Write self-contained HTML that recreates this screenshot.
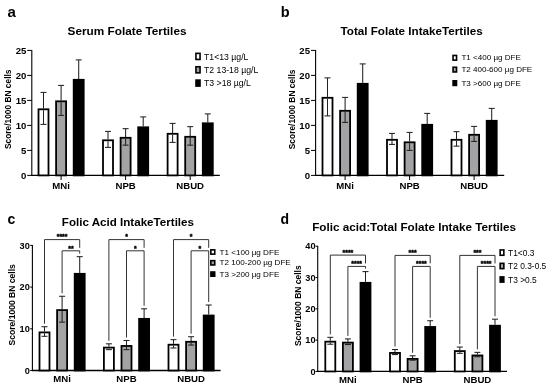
<!DOCTYPE html>
<html><head><meta charset="utf-8"><title>Folate tertiles</title>
<style>
html,body{margin:0;padding:0;background:#fff;}
body{width:550px;height:387px;overflow:hidden;}
svg{display:block;}
svg text{font-family:'Liberation Sans', Arial, sans-serif;fill:#000;}
</style></head><body>
<svg width="550" height="387" viewBox="0 0 550 387">
<rect x="0" y="0" width="550" height="387" fill="#fff"/>
<line x1="31.8" y1="49.9" x2="31.8" y2="176" stroke="#000" stroke-width="1.1"/>
<line x1="31.3" y1="175.4" x2="219.8" y2="175.4" stroke="#000" stroke-width="1.3"/>
<line x1="27.2" y1="175.4" x2="31.8" y2="175.4" stroke="#000" stroke-width="1"/>
<text x="26.3" y="178.7" font-size="9.6" font-weight="bold" text-anchor="end">0</text>
<line x1="27.2" y1="150.4" x2="31.8" y2="150.4" stroke="#000" stroke-width="1"/>
<text x="26.3" y="153.7" font-size="9.6" font-weight="bold" text-anchor="end">5</text>
<line x1="27.2" y1="125.4" x2="31.8" y2="125.4" stroke="#000" stroke-width="1"/>
<text x="26.3" y="128.7" font-size="9.6" font-weight="bold" text-anchor="end">10</text>
<line x1="27.2" y1="100.4" x2="31.8" y2="100.4" stroke="#000" stroke-width="1"/>
<text x="26.3" y="103.7" font-size="9.6" font-weight="bold" text-anchor="end">15</text>
<line x1="27.2" y1="75.4" x2="31.8" y2="75.4" stroke="#000" stroke-width="1"/>
<text x="26.3" y="78.7" font-size="9.6" font-weight="bold" text-anchor="end">20</text>
<line x1="27.2" y1="50.4" x2="31.8" y2="50.4" stroke="#000" stroke-width="1"/>
<text x="26.3" y="53.7" font-size="9.6" font-weight="bold" text-anchor="end">25</text>
<line x1="61.1" y1="175.4" x2="61.1" y2="180" stroke="#000" stroke-width="1"/>
<text x="61.1" y="189.1" font-size="9.6" font-weight="bold" text-anchor="middle">MNi</text>
<line x1="125.6" y1="175.4" x2="125.6" y2="180" stroke="#000" stroke-width="1"/>
<text x="125.6" y="189.1" font-size="9.6" font-weight="bold" text-anchor="middle">NPB</text>
<line x1="190.2" y1="175.4" x2="190.2" y2="180" stroke="#000" stroke-width="1"/>
<text x="190.2" y="189.1" font-size="9.6" font-weight="bold" text-anchor="middle">NBUD</text>
<rect x="38.5" y="109.3" width="10" height="66.1" fill="#fff" stroke="#000" stroke-width="1.8"/>
<line x1="43.5" y1="92.4" x2="43.5" y2="108.4" stroke="#222" stroke-width="1.05"/>
<line x1="40.5" y1="92.4" x2="46.5" y2="92.4" stroke="#222" stroke-width="1.05"/>
<line x1="43.5" y1="110.2" x2="43.5" y2="124.4" stroke="#222" stroke-width="1.05"/>
<line x1="40.5" y1="124.4" x2="46.5" y2="124.4" stroke="#222" stroke-width="1.05"/>
<rect x="56.1" y="101.3" width="10" height="74.1" fill="#a3a3a6" stroke="#000" stroke-width="1.8"/>
<line x1="61.1" y1="85.4" x2="61.1" y2="100.4" stroke="#222" stroke-width="1.05"/>
<line x1="58.1" y1="85.4" x2="64.1" y2="85.4" stroke="#222" stroke-width="1.05"/>
<line x1="61.1" y1="102.2" x2="61.1" y2="115.4" stroke="#222" stroke-width="1.05"/>
<line x1="58.1" y1="115.4" x2="64.1" y2="115.4" stroke="#222" stroke-width="1.05"/>
<rect x="73.7" y="79.8" width="10" height="95.6" fill="#000" stroke="#000" stroke-width="1.8"/>
<line x1="78.7" y1="59.9" x2="78.7" y2="78.9" stroke="#222" stroke-width="1.05"/>
<line x1="75.7" y1="59.9" x2="81.7" y2="59.9" stroke="#222" stroke-width="1.05"/>
<rect x="103" y="140.3" width="10" height="35.1" fill="#fff" stroke="#000" stroke-width="1.8"/>
<line x1="108" y1="131.4" x2="108" y2="139.4" stroke="#222" stroke-width="1.05"/>
<line x1="105" y1="131.4" x2="111" y2="131.4" stroke="#222" stroke-width="1.05"/>
<line x1="108" y1="141.2" x2="108" y2="147.4" stroke="#222" stroke-width="1.05"/>
<line x1="105" y1="147.4" x2="111" y2="147.4" stroke="#222" stroke-width="1.05"/>
<rect x="120.6" y="137.8" width="10" height="37.6" fill="#a3a3a6" stroke="#000" stroke-width="1.8"/>
<line x1="125.6" y1="128.65" x2="125.6" y2="136.9" stroke="#222" stroke-width="1.05"/>
<line x1="122.6" y1="128.65" x2="128.6" y2="128.65" stroke="#222" stroke-width="1.05"/>
<line x1="125.6" y1="138.7" x2="125.6" y2="145.15" stroke="#222" stroke-width="1.05"/>
<line x1="122.6" y1="145.15" x2="128.6" y2="145.15" stroke="#222" stroke-width="1.05"/>
<rect x="138.2" y="127.3" width="10" height="48.1" fill="#000" stroke="#000" stroke-width="1.8"/>
<line x1="143.2" y1="116.9" x2="143.2" y2="126.4" stroke="#222" stroke-width="1.05"/>
<line x1="140.2" y1="116.9" x2="146.2" y2="116.9" stroke="#222" stroke-width="1.05"/>
<rect x="167.6" y="133.8" width="10" height="41.6" fill="#fff" stroke="#000" stroke-width="1.8"/>
<line x1="172.6" y1="123.4" x2="172.6" y2="132.9" stroke="#222" stroke-width="1.05"/>
<line x1="169.6" y1="123.4" x2="175.6" y2="123.4" stroke="#222" stroke-width="1.05"/>
<line x1="172.6" y1="134.7" x2="172.6" y2="142.4" stroke="#222" stroke-width="1.05"/>
<line x1="169.6" y1="142.4" x2="175.6" y2="142.4" stroke="#222" stroke-width="1.05"/>
<rect x="185.2" y="136.8" width="10" height="38.6" fill="#a3a3a6" stroke="#000" stroke-width="1.8"/>
<line x1="190.2" y1="126.65" x2="190.2" y2="135.9" stroke="#222" stroke-width="1.05"/>
<line x1="187.2" y1="126.65" x2="193.2" y2="126.65" stroke="#222" stroke-width="1.05"/>
<line x1="190.2" y1="137.7" x2="190.2" y2="145.15" stroke="#222" stroke-width="1.05"/>
<line x1="187.2" y1="145.15" x2="193.2" y2="145.15" stroke="#222" stroke-width="1.05"/>
<rect x="202.8" y="123.3" width="10" height="52.1" fill="#000" stroke="#000" stroke-width="1.8"/>
<line x1="207.8" y1="113.9" x2="207.8" y2="122.4" stroke="#222" stroke-width="1.05"/>
<line x1="204.8" y1="113.9" x2="210.8" y2="113.9" stroke="#222" stroke-width="1.05"/>
<text x="0" y="0" font-size="8.4" font-weight="bold" text-anchor="middle" transform="translate(11.3,109.3) rotate(-90)">Score/1000 BN cells</text>
<text x="67.6" y="35.3" font-size="11.5" font-weight="bold" text-anchor="start" textLength="118.9" lengthAdjust="spacingAndGlyphs">Serum Folate Tertiles</text>
<text x="7.6" y="16.5" font-size="15" font-weight="bold" text-anchor="start">a</text>
<rect x="195.95" y="53.35" width="4.1" height="6.1" fill="#fff" stroke="#000" stroke-width="1.6"/>
<text x="204" y="60" font-size="8.7" text-anchor="start">T1&lt;13 µg/L</text>
<rect x="195.95" y="66.75" width="4.1" height="6.1" fill="#a3a3a6" stroke="#000" stroke-width="1.6"/>
<text x="204" y="72.6" font-size="8.7" text-anchor="start">T2 13-18 µg/L</text>
<rect x="195.2" y="79.3" width="5.6" height="7.6" fill="#000"/>
<text x="204" y="86" font-size="8.7" text-anchor="start">T3 &gt;18 µg/L</text>
<line x1="315.6" y1="49.9" x2="315.6" y2="176" stroke="#000" stroke-width="1.1"/>
<line x1="315.1" y1="175.4" x2="504.2" y2="175.4" stroke="#000" stroke-width="1.3"/>
<line x1="311" y1="175.4" x2="315.6" y2="175.4" stroke="#000" stroke-width="1"/>
<text x="310" y="178.7" font-size="9.6" font-weight="bold" text-anchor="end">0</text>
<line x1="311" y1="150.4" x2="315.6" y2="150.4" stroke="#000" stroke-width="1"/>
<text x="310" y="153.7" font-size="9.6" font-weight="bold" text-anchor="end">5</text>
<line x1="311" y1="125.4" x2="315.6" y2="125.4" stroke="#000" stroke-width="1"/>
<text x="310" y="128.7" font-size="9.6" font-weight="bold" text-anchor="end">10</text>
<line x1="311" y1="100.4" x2="315.6" y2="100.4" stroke="#000" stroke-width="1"/>
<text x="310" y="103.7" font-size="9.6" font-weight="bold" text-anchor="end">15</text>
<line x1="311" y1="75.4" x2="315.6" y2="75.4" stroke="#000" stroke-width="1"/>
<text x="310" y="78.7" font-size="9.6" font-weight="bold" text-anchor="end">20</text>
<line x1="311" y1="50.4" x2="315.6" y2="50.4" stroke="#000" stroke-width="1"/>
<text x="310" y="53.7" font-size="9.6" font-weight="bold" text-anchor="end">25</text>
<line x1="345.1" y1="175.4" x2="345.1" y2="180" stroke="#000" stroke-width="1"/>
<text x="345.1" y="189.1" font-size="9.6" font-weight="bold" text-anchor="middle">MNi</text>
<line x1="409.6" y1="175.4" x2="409.6" y2="180" stroke="#000" stroke-width="1"/>
<text x="409.6" y="189.1" font-size="9.6" font-weight="bold" text-anchor="middle">NPB</text>
<line x1="474.1" y1="175.4" x2="474.1" y2="180" stroke="#000" stroke-width="1"/>
<text x="474.1" y="189.1" font-size="9.6" font-weight="bold" text-anchor="middle">NBUD</text>
<rect x="322.5" y="97.8" width="10" height="77.6" fill="#fff" stroke="#000" stroke-width="1.8"/>
<line x1="327.5" y1="77.9" x2="327.5" y2="96.9" stroke="#222" stroke-width="1.05"/>
<line x1="324.5" y1="77.9" x2="330.5" y2="77.9" stroke="#222" stroke-width="1.05"/>
<line x1="327.5" y1="98.7" x2="327.5" y2="115.9" stroke="#222" stroke-width="1.05"/>
<line x1="324.5" y1="115.9" x2="330.5" y2="115.9" stroke="#222" stroke-width="1.05"/>
<rect x="340.1" y="110.8" width="10" height="64.6" fill="#a3a3a6" stroke="#000" stroke-width="1.8"/>
<line x1="345.1" y1="97.4" x2="345.1" y2="109.9" stroke="#222" stroke-width="1.05"/>
<line x1="342.1" y1="97.4" x2="348.1" y2="97.4" stroke="#222" stroke-width="1.05"/>
<line x1="345.1" y1="111.7" x2="345.1" y2="122.4" stroke="#222" stroke-width="1.05"/>
<line x1="342.1" y1="122.4" x2="348.1" y2="122.4" stroke="#222" stroke-width="1.05"/>
<rect x="357.7" y="83.8" width="10" height="91.6" fill="#000" stroke="#000" stroke-width="1.8"/>
<line x1="362.7" y1="63.9" x2="362.7" y2="82.9" stroke="#222" stroke-width="1.05"/>
<line x1="359.7" y1="63.9" x2="365.7" y2="63.9" stroke="#222" stroke-width="1.05"/>
<rect x="387" y="139.8" width="10" height="35.6" fill="#fff" stroke="#000" stroke-width="1.8"/>
<line x1="392" y1="133.4" x2="392" y2="138.9" stroke="#222" stroke-width="1.05"/>
<line x1="389" y1="133.4" x2="395" y2="133.4" stroke="#222" stroke-width="1.05"/>
<line x1="392" y1="140.7" x2="392" y2="144.4" stroke="#222" stroke-width="1.05"/>
<line x1="389" y1="144.4" x2="395" y2="144.4" stroke="#222" stroke-width="1.05"/>
<rect x="404.6" y="142.3" width="10" height="33.1" fill="#a3a3a6" stroke="#000" stroke-width="1.8"/>
<line x1="409.6" y1="132.4" x2="409.6" y2="141.4" stroke="#222" stroke-width="1.05"/>
<line x1="406.6" y1="132.4" x2="412.6" y2="132.4" stroke="#222" stroke-width="1.05"/>
<line x1="409.6" y1="143.2" x2="409.6" y2="150.4" stroke="#222" stroke-width="1.05"/>
<line x1="406.6" y1="150.4" x2="412.6" y2="150.4" stroke="#222" stroke-width="1.05"/>
<rect x="422.2" y="124.8" width="10" height="50.6" fill="#000" stroke="#000" stroke-width="1.8"/>
<line x1="427.2" y1="113.4" x2="427.2" y2="123.9" stroke="#222" stroke-width="1.05"/>
<line x1="424.2" y1="113.4" x2="430.2" y2="113.4" stroke="#222" stroke-width="1.05"/>
<rect x="451.5" y="139.8" width="10" height="35.6" fill="#fff" stroke="#000" stroke-width="1.8"/>
<line x1="456.5" y1="131.65" x2="456.5" y2="138.9" stroke="#222" stroke-width="1.05"/>
<line x1="453.5" y1="131.65" x2="459.5" y2="131.65" stroke="#222" stroke-width="1.05"/>
<line x1="456.5" y1="140.7" x2="456.5" y2="146.15" stroke="#222" stroke-width="1.05"/>
<line x1="453.5" y1="146.15" x2="459.5" y2="146.15" stroke="#222" stroke-width="1.05"/>
<rect x="469.1" y="134.8" width="10" height="40.6" fill="#a3a3a6" stroke="#000" stroke-width="1.8"/>
<line x1="474.1" y1="126.4" x2="474.1" y2="133.9" stroke="#222" stroke-width="1.05"/>
<line x1="471.1" y1="126.4" x2="477.1" y2="126.4" stroke="#222" stroke-width="1.05"/>
<line x1="474.1" y1="135.7" x2="474.1" y2="141.4" stroke="#222" stroke-width="1.05"/>
<line x1="471.1" y1="141.4" x2="477.1" y2="141.4" stroke="#222" stroke-width="1.05"/>
<rect x="486.7" y="120.8" width="10" height="54.6" fill="#000" stroke="#000" stroke-width="1.8"/>
<line x1="491.7" y1="108.4" x2="491.7" y2="119.9" stroke="#222" stroke-width="1.05"/>
<line x1="488.7" y1="108.4" x2="494.7" y2="108.4" stroke="#222" stroke-width="1.05"/>
<text x="0" y="0" font-size="8.4" font-weight="bold" text-anchor="middle" transform="translate(295,109.4) rotate(-90)">Score/1000 BN cells</text>
<text x="340.5" y="35.3" font-size="11.5" font-weight="bold" text-anchor="start" textLength="142.2" lengthAdjust="spacingAndGlyphs">Total Folate IntakeTertiles</text>
<text x="280.7" y="17" font-size="14.5" font-weight="bold" text-anchor="start">b</text>
<rect x="453.05" y="55.45" width="3.5" height="4.7" fill="#fff" stroke="#000" stroke-width="1.6"/>
<text x="461.4" y="60.4" font-size="8.05" text-anchor="start">T1 &lt;400 µg DFE</text>
<rect x="453.05" y="67.25" width="3.5" height="4.7" fill="#a3a3a6" stroke="#000" stroke-width="1.6"/>
<text x="461.4" y="72.2" font-size="8.05" text-anchor="start">T2 400-600 µg DFE</text>
<rect x="452.3" y="80" width="5" height="6.2" fill="#000"/>
<text x="461.4" y="85.6" font-size="8.05" text-anchor="start">T3 &gt;600 µg DFE</text>
<line x1="32.4" y1="244.9" x2="32.4" y2="371.1" stroke="#000" stroke-width="1.1"/>
<line x1="31.9" y1="370.5" x2="220.6" y2="370.5" stroke="#000" stroke-width="1.3"/>
<line x1="30.2" y1="370.5" x2="32.4" y2="370.5" stroke="#000" stroke-width="1"/>
<text x="29.8" y="373.7" font-size="9.2" font-weight="bold" text-anchor="end">0</text>
<line x1="30.2" y1="328.8" x2="32.4" y2="328.8" stroke="#000" stroke-width="1"/>
<text x="29.8" y="332" font-size="9.2" font-weight="bold" text-anchor="end">10</text>
<line x1="30.2" y1="287.1" x2="32.4" y2="287.1" stroke="#000" stroke-width="1"/>
<text x="29.8" y="290.3" font-size="9.2" font-weight="bold" text-anchor="end">20</text>
<line x1="30.2" y1="245.4" x2="32.4" y2="245.4" stroke="#000" stroke-width="1"/>
<text x="29.8" y="248.6" font-size="9.2" font-weight="bold" text-anchor="end">30</text>
<text x="62.1" y="381.5" font-size="9.6" font-weight="bold" text-anchor="middle">MNi</text>
<text x="126.5" y="381.5" font-size="9.6" font-weight="bold" text-anchor="middle">NPB</text>
<text x="191.1" y="381.5" font-size="9.6" font-weight="bold" text-anchor="middle">NBUD</text>
<rect x="39.5" y="332.41" width="10" height="38.09" fill="#fff" stroke="#000" stroke-width="1.8"/>
<line x1="44.5" y1="326.72" x2="44.5" y2="331.51" stroke="#222" stroke-width="1.05"/>
<line x1="41.5" y1="326.72" x2="47.5" y2="326.72" stroke="#222" stroke-width="1.05"/>
<line x1="44.5" y1="333.31" x2="44.5" y2="336.31" stroke="#222" stroke-width="1.05"/>
<line x1="41.5" y1="336.31" x2="47.5" y2="336.31" stroke="#222" stroke-width="1.05"/>
<rect x="57.1" y="310.1" width="10" height="60.4" fill="#a3a3a6" stroke="#000" stroke-width="1.8"/>
<line x1="62.1" y1="296.27" x2="62.1" y2="309.2" stroke="#222" stroke-width="1.05"/>
<line x1="59.1" y1="296.27" x2="65.1" y2="296.27" stroke="#222" stroke-width="1.05"/>
<line x1="62.1" y1="311" x2="62.1" y2="322.13" stroke="#222" stroke-width="1.05"/>
<line x1="59.1" y1="322.13" x2="65.1" y2="322.13" stroke="#222" stroke-width="1.05"/>
<rect x="74.7" y="273.82" width="10" height="96.68" fill="#000" stroke="#000" stroke-width="1.8"/>
<line x1="79.7" y1="256.66" x2="79.7" y2="272.92" stroke="#222" stroke-width="1.05"/>
<line x1="76.7" y1="256.66" x2="82.7" y2="256.66" stroke="#222" stroke-width="1.05"/>
<rect x="103.9" y="347.63" width="10" height="22.87" fill="#fff" stroke="#000" stroke-width="1.8"/>
<line x1="108.9" y1="343.81" x2="108.9" y2="346.73" stroke="#222" stroke-width="1.05"/>
<line x1="105.9" y1="343.81" x2="111.9" y2="343.81" stroke="#222" stroke-width="1.05"/>
<line x1="108.9" y1="348.53" x2="108.9" y2="349.65" stroke="#222" stroke-width="1.05"/>
<line x1="105.9" y1="349.65" x2="111.9" y2="349.65" stroke="#222" stroke-width="1.05"/>
<rect x="121.5" y="345.96" width="10" height="24.54" fill="#a3a3a6" stroke="#000" stroke-width="1.8"/>
<line x1="126.5" y1="340.48" x2="126.5" y2="345.06" stroke="#222" stroke-width="1.05"/>
<line x1="123.5" y1="340.48" x2="129.5" y2="340.48" stroke="#222" stroke-width="1.05"/>
<line x1="126.5" y1="346.86" x2="126.5" y2="349.65" stroke="#222" stroke-width="1.05"/>
<line x1="123.5" y1="349.65" x2="129.5" y2="349.65" stroke="#222" stroke-width="1.05"/>
<rect x="139.1" y="318.86" width="10" height="51.64" fill="#000" stroke="#000" stroke-width="1.8"/>
<line x1="144.1" y1="308.78" x2="144.1" y2="317.96" stroke="#222" stroke-width="1.05"/>
<line x1="141.1" y1="308.78" x2="147.1" y2="308.78" stroke="#222" stroke-width="1.05"/>
<rect x="168.5" y="344.71" width="10" height="25.79" fill="#fff" stroke="#000" stroke-width="1.8"/>
<line x1="173.5" y1="339.64" x2="173.5" y2="343.81" stroke="#222" stroke-width="1.05"/>
<line x1="170.5" y1="339.64" x2="176.5" y2="339.64" stroke="#222" stroke-width="1.05"/>
<line x1="173.5" y1="345.61" x2="173.5" y2="347.98" stroke="#222" stroke-width="1.05"/>
<line x1="170.5" y1="347.98" x2="176.5" y2="347.98" stroke="#222" stroke-width="1.05"/>
<rect x="186.1" y="341.79" width="10" height="28.71" fill="#a3a3a6" stroke="#000" stroke-width="1.8"/>
<line x1="191.1" y1="336.72" x2="191.1" y2="340.89" stroke="#222" stroke-width="1.05"/>
<line x1="188.1" y1="336.72" x2="194.1" y2="336.72" stroke="#222" stroke-width="1.05"/>
<line x1="191.1" y1="342.69" x2="191.1" y2="345.06" stroke="#222" stroke-width="1.05"/>
<line x1="188.1" y1="345.06" x2="194.1" y2="345.06" stroke="#222" stroke-width="1.05"/>
<rect x="203.7" y="315.52" width="10" height="54.98" fill="#000" stroke="#000" stroke-width="1.8"/>
<line x1="208.7" y1="305.03" x2="208.7" y2="314.62" stroke="#222" stroke-width="1.05"/>
<line x1="205.7" y1="305.03" x2="211.7" y2="305.03" stroke="#222" stroke-width="1.05"/>
<polyline points="44.5,323.72 44.5,239.6 79.7,239.6 79.7,247.8" fill="none" stroke="#333" stroke-width="1"/>
<text x="62.1" y="239.3" font-size="6.9" font-weight="bold" text-anchor="middle" stroke="#000" stroke-width="0.45">****</text>
<polyline points="62.1,293.27 62.1,250.8 79.7,250.8 79.7,253.66" fill="none" stroke="#333" stroke-width="1"/>
<text x="70.9" y="250.5" font-size="6.9" font-weight="bold" text-anchor="middle" stroke="#000" stroke-width="0.45">**</text>
<polyline points="108.9,340.81 108.9,239.6 144.1,239.6 144.1,247.8" fill="none" stroke="#333" stroke-width="1"/>
<text x="126.5" y="239.3" font-size="6.9" font-weight="bold" text-anchor="middle" stroke="#000" stroke-width="0.45">*</text>
<polyline points="126.5,337.48 126.5,250.8 144.1,250.8 144.1,305.78" fill="none" stroke="#333" stroke-width="1"/>
<text x="135.3" y="250.5" font-size="6.9" font-weight="bold" text-anchor="middle" stroke="#000" stroke-width="0.45">*</text>
<polyline points="173.5,336.64 173.5,239.6 208.7,239.6 208.7,247.8" fill="none" stroke="#333" stroke-width="1"/>
<text x="191.1" y="239.3" font-size="6.9" font-weight="bold" text-anchor="middle" stroke="#000" stroke-width="0.45">*</text>
<polyline points="191.1,333.72 191.1,250.8 208.7,250.8 208.7,302.03" fill="none" stroke="#333" stroke-width="1"/>
<text x="199.9" y="250.5" font-size="6.9" font-weight="bold" text-anchor="middle" stroke="#000" stroke-width="0.45">*</text>
<text x="0" y="0" font-size="8.55" font-weight="bold" text-anchor="middle" transform="translate(14.8,304.8) rotate(-90)">Score/1000 BN cells</text>
<text x="61.8" y="226.4" font-size="11.5" font-weight="bold" text-anchor="start" textLength="132.2" lengthAdjust="spacingAndGlyphs">Folic Acid IntakeTertiles</text>
<text x="7.6" y="224.2" font-size="14" font-weight="bold" text-anchor="start">c</text>
<rect x="210.85" y="249.85" width="3.9" height="4.3" fill="#fff" stroke="#000" stroke-width="1.6"/>
<text x="219.5" y="254.6" font-size="8.1" text-anchor="start">T1 &lt;100 µg DFE</text>
<rect x="210.85" y="260.65" width="3.9" height="4.3" fill="#a3a3a6" stroke="#000" stroke-width="1.6"/>
<text x="219.5" y="265.4" font-size="8.1" text-anchor="start">T2 100-200 µg DFE</text>
<rect x="210.1" y="271.2" width="5.4" height="5.8" fill="#000"/>
<text x="219.5" y="276.7" font-size="8.1" text-anchor="start">T3 &gt;200 µg DFE</text>
<line x1="317.7" y1="245.75" x2="317.7" y2="372.05" stroke="#000" stroke-width="1.1"/>
<line x1="317.2" y1="371.45" x2="507" y2="371.45" stroke="#000" stroke-width="1.3"/>
<line x1="315.5" y1="371.45" x2="317.7" y2="371.45" stroke="#000" stroke-width="1"/>
<text x="315.6" y="374.65" font-size="9.2" font-weight="bold" text-anchor="end">0</text>
<line x1="315.5" y1="340.15" x2="317.7" y2="340.15" stroke="#000" stroke-width="1"/>
<text x="315.6" y="343.35" font-size="9.2" font-weight="bold" text-anchor="end">10</text>
<line x1="315.5" y1="308.85" x2="317.7" y2="308.85" stroke="#000" stroke-width="1"/>
<text x="315.6" y="312.05" font-size="9.2" font-weight="bold" text-anchor="end">20</text>
<line x1="315.5" y1="277.55" x2="317.7" y2="277.55" stroke="#000" stroke-width="1"/>
<text x="315.6" y="280.75" font-size="9.2" font-weight="bold" text-anchor="end">30</text>
<line x1="315.5" y1="246.25" x2="317.7" y2="246.25" stroke="#000" stroke-width="1"/>
<text x="315.6" y="249.45" font-size="9.2" font-weight="bold" text-anchor="end">40</text>
<text x="347.9" y="382.7" font-size="9.6" font-weight="bold" text-anchor="middle">MNi</text>
<text x="412.6" y="382.7" font-size="9.6" font-weight="bold" text-anchor="middle">NPB</text>
<text x="477.4" y="382.7" font-size="9.6" font-weight="bold" text-anchor="middle">NBUD</text>
<rect x="325.3" y="341.68" width="10" height="29.77" fill="#fff" stroke="#000" stroke-width="1.8"/>
<line x1="330.3" y1="337.33" x2="330.3" y2="340.78" stroke="#222" stroke-width="1.05"/>
<line x1="327.3" y1="337.33" x2="333.3" y2="337.33" stroke="#222" stroke-width="1.05"/>
<line x1="330.3" y1="342.58" x2="330.3" y2="344.22" stroke="#222" stroke-width="1.05"/>
<line x1="327.3" y1="344.22" x2="333.3" y2="344.22" stroke="#222" stroke-width="1.05"/>
<rect x="342.9" y="342.61" width="10" height="28.84" fill="#a3a3a6" stroke="#000" stroke-width="1.8"/>
<line x1="347.9" y1="338.9" x2="347.9" y2="341.71" stroke="#222" stroke-width="1.05"/>
<line x1="344.9" y1="338.9" x2="350.9" y2="338.9" stroke="#222" stroke-width="1.05"/>
<line x1="347.9" y1="343.51" x2="347.9" y2="344.53" stroke="#222" stroke-width="1.05"/>
<line x1="344.9" y1="344.53" x2="350.9" y2="344.53" stroke="#222" stroke-width="1.05"/>
<rect x="360.5" y="282.83" width="10" height="88.62" fill="#000" stroke="#000" stroke-width="1.8"/>
<line x1="365.5" y1="271.6" x2="365.5" y2="281.93" stroke="#222" stroke-width="1.05"/>
<line x1="362.5" y1="271.6" x2="368.5" y2="271.6" stroke="#222" stroke-width="1.05"/>
<rect x="390" y="352.94" width="10" height="18.51" fill="#fff" stroke="#000" stroke-width="1.8"/>
<line x1="395" y1="349.54" x2="395" y2="352.04" stroke="#222" stroke-width="1.05"/>
<line x1="392" y1="349.54" x2="398" y2="349.54" stroke="#222" stroke-width="1.05"/>
<line x1="395" y1="353.84" x2="395" y2="354.55" stroke="#222" stroke-width="1.05"/>
<line x1="392" y1="354.55" x2="398" y2="354.55" stroke="#222" stroke-width="1.05"/>
<rect x="407.6" y="358.89" width="10" height="12.56" fill="#a3a3a6" stroke="#000" stroke-width="1.8"/>
<line x1="412.6" y1="355.8" x2="412.6" y2="357.99" stroke="#222" stroke-width="1.05"/>
<line x1="409.6" y1="355.8" x2="415.6" y2="355.8" stroke="#222" stroke-width="1.05"/>
<line x1="412.6" y1="359.79" x2="412.6" y2="360.18" stroke="#222" stroke-width="1.05"/>
<line x1="409.6" y1="360.18" x2="415.6" y2="360.18" stroke="#222" stroke-width="1.05"/>
<rect x="425.2" y="326.96" width="10" height="44.48" fill="#000" stroke="#000" stroke-width="1.8"/>
<line x1="430.2" y1="320.74" x2="430.2" y2="326.06" stroke="#222" stroke-width="1.05"/>
<line x1="427.2" y1="320.74" x2="433.2" y2="320.74" stroke="#222" stroke-width="1.05"/>
<rect x="454.8" y="351.07" width="10" height="20.38" fill="#fff" stroke="#000" stroke-width="1.8"/>
<line x1="459.8" y1="347.04" x2="459.8" y2="350.17" stroke="#222" stroke-width="1.05"/>
<line x1="456.8" y1="347.04" x2="462.8" y2="347.04" stroke="#222" stroke-width="1.05"/>
<line x1="459.8" y1="351.97" x2="459.8" y2="353.3" stroke="#222" stroke-width="1.05"/>
<line x1="456.8" y1="353.3" x2="462.8" y2="353.3" stroke="#222" stroke-width="1.05"/>
<rect x="472.4" y="355.45" width="10" height="16" fill="#a3a3a6" stroke="#000" stroke-width="1.8"/>
<line x1="477.4" y1="352.36" x2="477.4" y2="354.55" stroke="#222" stroke-width="1.05"/>
<line x1="474.4" y1="352.36" x2="480.4" y2="352.36" stroke="#222" stroke-width="1.05"/>
<line x1="477.4" y1="356.35" x2="477.4" y2="356.74" stroke="#222" stroke-width="1.05"/>
<line x1="474.4" y1="356.74" x2="480.4" y2="356.74" stroke="#222" stroke-width="1.05"/>
<rect x="490" y="325.71" width="10" height="45.74" fill="#000" stroke="#000" stroke-width="1.8"/>
<line x1="495" y1="319.18" x2="495" y2="324.81" stroke="#222" stroke-width="1.05"/>
<line x1="492" y1="319.18" x2="498" y2="319.18" stroke="#222" stroke-width="1.05"/>
<polyline points="330.3,334.33 330.3,255.1 365.5,255.1 365.5,263.4" fill="none" stroke="#333" stroke-width="1"/>
<text x="347.9" y="254.8" font-size="6.9" font-weight="bold" text-anchor="middle" stroke="#000" stroke-width="0.45">****</text>
<polyline points="347.9,335.9 347.9,266.4 365.5,266.4 365.5,268.6" fill="none" stroke="#333" stroke-width="1"/>
<text x="356.7" y="266.1" font-size="6.9" font-weight="bold" text-anchor="middle" stroke="#000" stroke-width="0.45">****</text>
<polyline points="395,346.54 395,255.4 430.2,255.4 430.2,263.4" fill="none" stroke="#333" stroke-width="1"/>
<text x="412.6" y="255.1" font-size="6.9" font-weight="bold" text-anchor="middle" stroke="#000" stroke-width="0.45">***</text>
<polyline points="412.6,352.8 412.6,266.4 430.2,266.4 430.2,317.74" fill="none" stroke="#333" stroke-width="1"/>
<text x="421.4" y="266.1" font-size="6.9" font-weight="bold" text-anchor="middle" stroke="#000" stroke-width="0.45">****</text>
<polyline points="459.8,344.04 459.8,255.4 495,255.4 495,263.4" fill="none" stroke="#333" stroke-width="1"/>
<text x="477.4" y="255.1" font-size="6.9" font-weight="bold" text-anchor="middle" stroke="#000" stroke-width="0.45">***</text>
<polyline points="477.4,349.36 477.4,266.4 495,266.4 495,316.18" fill="none" stroke="#333" stroke-width="1"/>
<text x="486.2" y="266.1" font-size="6.9" font-weight="bold" text-anchor="middle" stroke="#000" stroke-width="0.45">****</text>
<text x="0" y="0" font-size="8.5" font-weight="bold" text-anchor="middle" transform="translate(300.9,305.7) rotate(-90)">Score/1000 BN cells</text>
<text x="312.2" y="231" font-size="11.5" font-weight="bold" text-anchor="start" textLength="203.9" lengthAdjust="spacingAndGlyphs">Folic acid:Total Folate Intake Tertiles</text>
<text x="280.6" y="223.5" font-size="14" font-weight="bold" text-anchor="start">d</text>
<rect x="500.15" y="249.95" width="3.7" height="5.3" fill="#fff" stroke="#000" stroke-width="1.6"/>
<text x="508.1" y="255.6" font-size="8.4" text-anchor="start">T1&lt;0.3</text>
<rect x="500.15" y="263.35" width="3.7" height="5.3" fill="#a3a3a6" stroke="#000" stroke-width="1.6"/>
<text x="508.1" y="268.8" font-size="8.4" text-anchor="start">T2 0.3-0.5</text>
<rect x="499.4" y="276.1" width="5.2" height="6.8" fill="#000"/>
<text x="508.1" y="282.7" font-size="8.4" text-anchor="start">T3 &gt;0.5</text>
</svg>
</body></html>
